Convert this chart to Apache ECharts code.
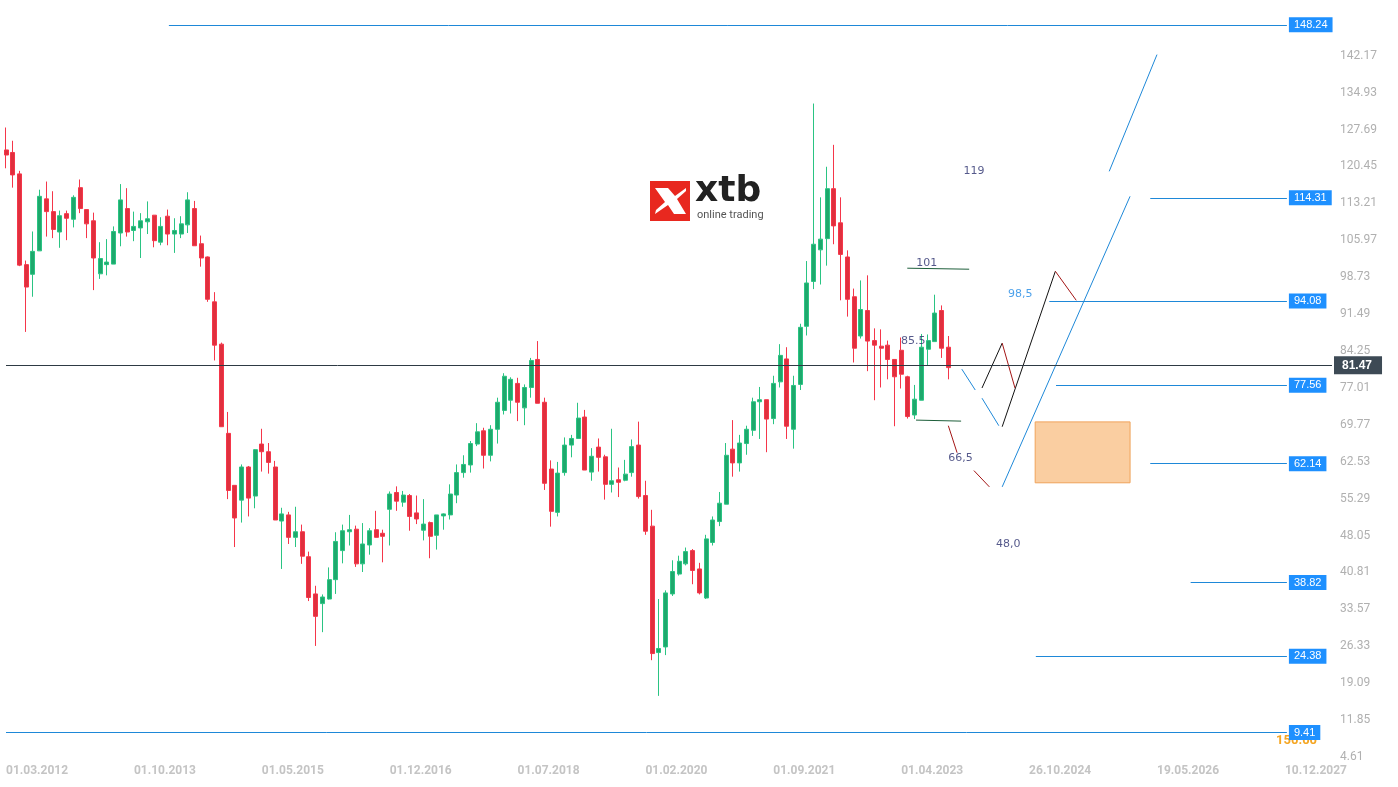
<!DOCTYPE html>
<html><head><meta charset="utf-8">
<script src="https://cdn.jsdelivr.net/npm/echarts@6/dist/echarts.min.js"></script>
<style>html,body{margin:0;padding:0;background:#fff}#c{width:1398px;height:787px}</style>
</head><body><div id="c"></div>
<script>
// Monthly candles from 01.03.2012: [open, close, low, high]
const candles = [
[123.7,122.7,120.1,128.1],[123.2,118.8,116.3,125.5],[119.0,101.1,100.9,119.6],[101.2,96.8,88.0,102.0],
[99.3,103.8,94.9,107.7],[103.9,114.6,103.9,115.9],[114.1,111.6,106.7,117.5],[111.6,108.1,106.4,115.6],
[107.6,110.8,104.5,111.8],[111.2,110.3,106.0,111.8],[110.1,114.4,108.5,114.8],[116.3,112.2,111.3,117.9],
[112.0,109.2,106.4,112.0],[109.8,102.5,96.2,111.4],[99.4,102.4,98.4,105.6],[101.2,101.7,99.1,106.2],
[101.3,107.7,101.3,108.7],[107.4,113.9,104.8,117.0],[112.2,107.6,106.7,116.2],[107.9,108.7,105.8,111.6],
[108.4,109.8,102.5,111.3],[109.6,110.2,107.2,113.6],[110.9,105.9,104.6,110.9],[105.6,108.7,105.0,110.5],
[110.7,107.2,105.0,112.0],[107.2,107.9,103.5,110.3],[107.2,109.2,106.4,110.7],[109.0,113.9,107.4,115.4],
[112.2,104.9,104.9,113.7],[105.3,102.5,100.8,106.9],[102.7,94.4,93.9,102.8],[93.9,85.4,82.4,95.8],
[85.6,69.4,69.4,85.9],[68.1,56.9,55.2,72.3],[57.9,51.5,45.8,57.9],[55.0,61.5,50.6,62.0],
[61.5,55.4,51.8,61.7],[55.8,64.9,53.4,65.0],[66.0,64.5,60.6,69.0],[64.5,62.4,60.2,66.2],
[61.5,51.1,51.1,62.7],[50.9,52.3,41.5,53.5],[52.1,47.7,46.4,52.7],[47.7,48.8,45.8,53.7],
[48.8,44.0,42.5,50.2],[43.9,35.9,35.2,44.9],[36.6,32.2,26.4,38.2],[34.7,36.0,29.1,36.5],
[35.6,39.4,35.5,41.8],[39.4,46.9,36.6,48.7],[45.1,49.0,42.6,50.2],[48.8,49.2,46.1,52.1],
[49.3,42.5,41.9,50.0],[42.5,46.4,40.9,50.5],[46.2,49.0,44.3,49.5],[49.2,47.7,47.7,52.9],
[48.5,47.9,42.8,49.2],[53.2,56.2,46.1,56.7],[56.5,54.8,52.9,57.7],[54.6,56.0,53.7,56.8],
[55.9,51.8,49.0,56.2],[52.5,51.3,50.3,55.9],[49.1,50.3,47.1,55.2],[50.6,47.9,43.6,50.8],
[48.1,52.1,45.3,52.1],[51.9,52.3,49.2,52.4],[52.1,56.2,51.2,58.1],[56.0,60.4,54.4,62.0],
[60.4,62.0,59.4,63.8],[61.9,66.1,60.4,66.6],[66.0,68.4,65.6,70.1],[68.6,63.8,61.2,69.2],
[63.8,68.9,62.6,69.7],[68.9,74.2,66.1,75.1],[72.6,79.3,71.8,79.9],[74.6,78.7,72.0,79.1],
[77.9,74.2,70.5,79.0],[73.1,77.1,69.7,77.7],[77.1,82.4,75.1,82.9],[82.6,74.0,74.0,86.2],
[74.2,58.3,57.0,75.1],[61.1,52.8,49.8,62.8],[52.6,60.3,51.8,62.5],[60.4,65.8,59.8,67.3],
[65.8,67.1,63.4,67.8],[67.1,71.1,67.1,74.1],[71.3,60.9,60.9,72.7],[60.5,63.6,58.8,65.2],
[65.4,63.4,60.6,67.1],[63.5,58.1,55.1,63.9],[58.1,58.8,56.5,69.0],[59.0,58.5,55.6,61.4],
[58.9,60.1,58.7,62.9],[60.4,65.5,59.6,66.9],[65.8,55.7,55.3,70.4],[55.9,48.9,48.2,58.8],
[49.9,24.9,23.6,53.1],[25.1,25.9,16.6,35.6],[26.2,36.8,24.6,37.3],[36.6,41.0,36.2,43.2],
[40.5,43.0,40.2,44.1],[42.5,44.9,42.2,45.7],[45.1,41.2,38.5,45.4],[41.5,36.8,36.5,42.7],
[35.8,47.4,35.6,48.2],[46.7,51.1,46.1,51.8],[50.8,54.4,49.9,56.6],[54.2,63.8,54.2,66.2],
[65.0,62.3,59.6,70.7],[62.3,66.2,60.6,67.8],[66.1,68.9,63.9,69.6],[68.7,74.3,67.6,75.1],
[74.3,74.7,67.0,77.2],[74.7,70.9,64.4,74.7],[71.0,77.9,69.9,79.4],[78.2,83.4,77.1,85.6],
[82.7,69.5,67.0,85.0],[68.9,77.5,65.1,79.4],[77.7,88.9,76.6,89.6],[89.1,97.6,87.3,101.9],
[97.9,105.2,96.4,132.8],[104.1,106.2,97.3,114.4],[106.3,116.1,101.0,120.4],[116.1,108.8,105.2,124.7],
[109.4,103.2,94.2,114.4],[102.7,94.4,91.0,104.0],[94.9,84.8,82.0,96.5],[87.2,92.4,86.7,98.1],
[92.2,86.2,80.3,99.1],[86.3,85.4,74.6,88.7],[85.2,84.8,77.1,88.5],[85.4,82.6,78.7,86.3],
[82.6,79.2,69.5,82.6],[84.4,79.7,76.9,86.9],[79.2,71.4,71.0,79.4],[71.7,74.8,70.9,77.6],
[74.6,85.0,74.6,87.6],[84.6,86.3,81.4,87.5],[86.1,91.7,86.1,95.3],[92.2,84.8,82.9,93.2],
[85.0,81.0,78.7,87.2]
];
const xTickLabels = ['01.03.2012','01.10.2013','01.05.2015','01.12.2016','01.07.2018','01.02.2020','01.09.2021','01.04.2023','26.10.2024','19.05.2026','10.12.2027'];
const currentPrice = 81.47;
// horizontal levels: [price, start month index]
const levels = [[148.24,24.2],[114.31,170],[94.08,155],[77.56,156],[62.14,170],[38.82,176],[24.38,153],[9.41,0]];
const levelEnd = 190.3;
// projection sketch segments: [[x1,p1],[x2,p2]]
const blueSegs = [[[148.0,57.6],[167.0,114.6]],[[163.9,119.5],[171.0,142.4]],[[142.0,80.7],[144.0,76.6]],[[145.0,75.0],[147.5,69.6]]];
const blackSegs = [[[145.0,77.0],[148.0,85.8]],[[148.0,69.4],[155.9,99.9]]];
const redSegs = [[[148.0,85.8],[149.9,77.0]],[[155.9,99.9],[159.0,94.2]],[[140.0,69.6],[141.3,64.3]],[[143.8,60.8],[146.1,57.6]]];
const greenSegs = [[[133.9,100.5],[143.1,100.3]],[[135.2,70.7],[141.9,70.5]]];
const notes = [['119',143.8,119.5,'#2a2f6e'],['101',136.8,101.5,'#2a2f6e'],['98,5',150.7,95.4,'#1e88e5'],['85.5',134.8,86.2,'#2a2f6e'],['66,5',141.8,63.3,'#2a2f6e'],['48,0',148.9,46.3,'#2a2f6e']];
const zone = [[152.9,70.35],[167.0,58.4]];

const candleData = candles.map((c,i)=>[i,c[0],c[1],c[2],c[3]]);
function segSeries(segs,color){return segs.map(s=>({type:'line',data:s,symbol:'none',silent:true,lineStyle:{color,width:1},z:3}));}
const chart = echarts.init(document.getElementById('c'));
chart.setOption({
  animation:false,
  grid:{left:6,right:66,top:2,bottom:30},
  xAxis:{type:'value',min:0,max:197,interval:19,splitLine:{show:false},axisLine:{show:false},axisTick:{show:false},
    axisLabel:{showMaxLabel:false,align:'left',color:'#c4c4c4',fontSize:12,fontWeight:'bold',fontFamily:'Roboto',margin:8,
      formatter:v=>xTickLabels[Math.round(v/19)]||''}},
  yAxis:{type:'value',position:'right',min:4.61,max:152.72,interval:7.24,splitLine:{show:false},axisLine:{show:false},axisTick:{show:false},
    axisLabel:{showMaxLabel:false,color:'#b0b0b0',fontSize:12,fontFamily:'Roboto',margin:8,formatter:v=>v>143?'':v.toFixed(2)}},
  graphic:[
    {type:'rect',left:650,top:181,shape:{width:40,height:40},style:{fill:'#e8281f'}},
    {type:'polygon',shape:{points:[[655,188],[668,188],[675,196],[686,188],[686,191],[677,199],[686,214],[674,214],[668,205],[655,214],[656,210],[665,202]]},style:{fill:'#fff'}},
    {type:'text',left:695,top:174,style:{text:'xtb',font:'bold 36px "DejaVu Sans"',fill:'#222'}},
    {type:'text',left:697,top:210,style:{text:'online trading',font:'11px Roboto',fill:'#555'}},
    {type:'text',left:1276,top:734,z:-1,style:{text:'150.00',font:'bold 13px Roboto',fill:'#f5a623'}}
  ],
  series:[
    {type:'candlestick',data:candleData,barWidth:4.5,clip:false,
      itemStyle:{color:'#1ea86c',color0:'#e0303e',borderColor:'#2ac483',borderColor0:'#f5364a',borderWidth:1},
      markLine:{symbol:'none',silent:true,animation:false,
        data:[
          [{coord:[0,currentPrice],lineStyle:{color:'#2e3a44',width:1,type:'solid'},label:{show:true,position:'end',distance:2,formatter:currentPrice.toFixed(2),color:'#fff',backgroundColor:'#3d4a55',padding:[3,10,3,8],fontSize:12,fontWeight:'bold'}},{coord:[197,currentPrice]}]
        ].concat(levels.map(l=>[{coord:[l[1],l[0]],lineStyle:{color:'#1e88d8',width:1,type:'solid'},label:{show:true,position:'end',distance:2,formatter:l[0].toFixed(2),color:'#fff',backgroundColor:'#1e90ff',padding:[2,5],fontSize:11}},{coord:[levelEnd,l[0]]}]))},
      markArea:{silent:true,itemStyle:{color:'rgba(248,190,130,0.75)',borderColor:'#f0a35a',borderWidth:1},data:[[{coord:zone[0]},{coord:zone[1]}]]}
    },
    ...segSeries(blueSegs,'#1e88d8'),...segSeries(blackSegs,'#111'),...segSeries(redSegs,'#a31515'),...segSeries(greenSegs,'#1d5e3a'),
    {type:'scatter',symbolSize:0,silent:true,data:notes.map(n=>({value:[n[1],n[2]],label:{show:true,position:'inside',formatter:n[0],color:n[3],fontSize:11,fontFamily:'DejaVu Sans'}}))}
  ]
});
</script></body></html>
